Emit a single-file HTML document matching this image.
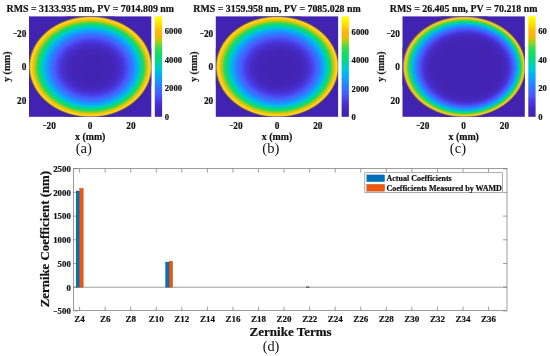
<!DOCTYPE html>
<html><head><meta charset="utf-8"><title>Figure</title>
<style>
html,body{margin:0;padding:0;background:#fff;}
svg{display:block}
text{font-family:"Liberation Serif",serif;fill:#111;}
.b{font-weight:bold;stroke:#111;stroke-width:0.2px}
</style></head><body>
<svg width="550" height="356" viewBox="0 0 550 356">
<defs>
<radialGradient id="ga" cx="0.5" cy="0.5" r="0.5" fx="0.5265" fy="0.5231"><stop offset="0.0000" stop-color="#4222b0"/><stop offset="0.0337" stop-color="#4222b0"/><stop offset="0.0673" stop-color="#4222b0"/><stop offset="0.1010" stop-color="#4222b1"/><stop offset="0.1347" stop-color="#4222b1"/><stop offset="0.1684" stop-color="#4223b1"/><stop offset="0.2020" stop-color="#4223b2"/><stop offset="0.2357" stop-color="#4223b3"/><stop offset="0.2694" stop-color="#4324b5"/><stop offset="0.3030" stop-color="#4324b7"/><stop offset="0.3367" stop-color="#4325b9"/><stop offset="0.3704" stop-color="#4427bd"/><stop offset="0.4040" stop-color="#452ac3"/><stop offset="0.4377" stop-color="#462ecc"/><stop offset="0.4630" stop-color="#4732d5"/><stop offset="0.4714" stop-color="#4734d8"/><stop offset="0.4798" stop-color="#4736db"/><stop offset="0.4882" stop-color="#4838df"/><stop offset="0.4966" stop-color="#483be2"/><stop offset="0.5051" stop-color="#483de5"/><stop offset="0.5135" stop-color="#4841e9"/><stop offset="0.5219" stop-color="#4844ec"/><stop offset="0.5303" stop-color="#4848ef"/><stop offset="0.5387" stop-color="#484cf2"/><stop offset="0.5471" stop-color="#4851f5"/><stop offset="0.5556" stop-color="#4755f8"/><stop offset="0.5640" stop-color="#465afc"/><stop offset="0.5724" stop-color="#455eff"/><stop offset="0.5808" stop-color="#4362ff"/><stop offset="0.5892" stop-color="#4066ff"/><stop offset="0.5976" stop-color="#3d6aff"/><stop offset="0.6061" stop-color="#3a6fff"/><stop offset="0.6145" stop-color="#3573ff"/><stop offset="0.6229" stop-color="#3178ff"/><stop offset="0.6313" stop-color="#2c7dff"/><stop offset="0.6397" stop-color="#2882ff"/><stop offset="0.6481" stop-color="#2588ff"/><stop offset="0.6566" stop-color="#218eff"/><stop offset="0.6650" stop-color="#1d94ff"/><stop offset="0.6734" stop-color="#199afe"/><stop offset="0.6818" stop-color="#14a0fb"/><stop offset="0.6902" stop-color="#0ea6f8"/><stop offset="0.6987" stop-color="#08adf4"/><stop offset="0.7071" stop-color="#00b4ef"/><stop offset="0.7155" stop-color="#00bae8"/><stop offset="0.7239" stop-color="#00bfdf"/><stop offset="0.7323" stop-color="#00c4d3"/><stop offset="0.7407" stop-color="#00c9c6"/><stop offset="0.7492" stop-color="#00ceb8"/><stop offset="0.7576" stop-color="#00d2a9"/><stop offset="0.7660" stop-color="#03d499"/><stop offset="0.7744" stop-color="#08d68b"/><stop offset="0.7828" stop-color="#0dd87e"/><stop offset="0.7912" stop-color="#12d972"/><stop offset="0.7997" stop-color="#1ad967"/><stop offset="0.8081" stop-color="#26d95b"/><stop offset="0.8165" stop-color="#37d84f"/><stop offset="0.8249" stop-color="#4fd742"/><stop offset="0.8333" stop-color="#6dd435"/><stop offset="0.8418" stop-color="#8ed027"/><stop offset="0.8502" stop-color="#afca1b"/><stop offset="0.8586" stop-color="#cdc412"/><stop offset="0.8670" stop-color="#e6c00d"/><stop offset="0.8754" stop-color="#f7c00a"/><stop offset="0.8838" stop-color="#ffc508"/><stop offset="0.8923" stop-color="#ffcd09"/><stop offset="0.9007" stop-color="#ffd610"/><stop offset="0.9091" stop-color="#fad723"/><stop offset="0.9175" stop-color="#dec33c"/><stop offset="0.9259" stop-color="#a9914e"/><stop offset="0.9343" stop-color="#715760"/><stop offset="0.9428" stop-color="#50347b"/><stop offset="0.9512" stop-color="#452797"/><stop offset="0.9596" stop-color="#4324a7"/><stop offset="0.9680" stop-color="#4222ad"/><stop offset="0.9764" stop-color="#4222af"/><stop offset="0.9848" stop-color="#4222b0"/><stop offset="0.9933" stop-color="#4222b0"/></radialGradient>
<radialGradient id="gc" cx="0.5" cy="0.5" r="0.5" fx="0.5644" fy="0.5324"><stop offset="0.0000" stop-color="#4222b0"/><stop offset="0.0337" stop-color="#4222b0"/><stop offset="0.0673" stop-color="#4222b0"/><stop offset="0.1010" stop-color="#4222b0"/><stop offset="0.1347" stop-color="#4222b0"/><stop offset="0.1684" stop-color="#4222b0"/><stop offset="0.2020" stop-color="#4222b0"/><stop offset="0.2357" stop-color="#4222b0"/><stop offset="0.2694" stop-color="#4222b0"/><stop offset="0.3030" stop-color="#4222b0"/><stop offset="0.3367" stop-color="#4222b0"/><stop offset="0.3704" stop-color="#4222b1"/><stop offset="0.4040" stop-color="#4222b1"/><stop offset="0.4377" stop-color="#4223b2"/><stop offset="0.4630" stop-color="#4223b2"/><stop offset="0.4714" stop-color="#4223b3"/><stop offset="0.4798" stop-color="#4223b3"/><stop offset="0.4882" stop-color="#4223b3"/><stop offset="0.4966" stop-color="#4323b4"/><stop offset="0.5051" stop-color="#4323b4"/><stop offset="0.5135" stop-color="#4324b4"/><stop offset="0.5219" stop-color="#4324b5"/><stop offset="0.5303" stop-color="#4324b6"/><stop offset="0.5387" stop-color="#4324b6"/><stop offset="0.5471" stop-color="#4325b7"/><stop offset="0.5556" stop-color="#4325b8"/><stop offset="0.5640" stop-color="#4325b9"/><stop offset="0.5724" stop-color="#4326ba"/><stop offset="0.5808" stop-color="#4426bc"/><stop offset="0.5892" stop-color="#4427be"/><stop offset="0.5976" stop-color="#4428c0"/><stop offset="0.6061" stop-color="#4429c2"/><stop offset="0.6145" stop-color="#452ac5"/><stop offset="0.6229" stop-color="#452cc8"/><stop offset="0.6313" stop-color="#462dcb"/><stop offset="0.6397" stop-color="#462fcf"/><stop offset="0.6481" stop-color="#4632d4"/><stop offset="0.6566" stop-color="#4735d9"/><stop offset="0.6650" stop-color="#4738de"/><stop offset="0.6734" stop-color="#483ce3"/><stop offset="0.6818" stop-color="#4842e8"/><stop offset="0.6902" stop-color="#4848ed"/><stop offset="0.6987" stop-color="#474ef3"/><stop offset="0.7071" stop-color="#4655f8"/><stop offset="0.7155" stop-color="#445cfd"/><stop offset="0.7239" stop-color="#4163ff"/><stop offset="0.7323" stop-color="#3d6aff"/><stop offset="0.7407" stop-color="#3772ff"/><stop offset="0.7492" stop-color="#3079ff"/><stop offset="0.7576" stop-color="#2982ff"/><stop offset="0.7660" stop-color="#238bff"/><stop offset="0.7744" stop-color="#1c95ff"/><stop offset="0.7828" stop-color="#139ffa"/><stop offset="0.7912" stop-color="#0aaaf3"/><stop offset="0.7997" stop-color="#01b4e8"/><stop offset="0.8081" stop-color="#00bcd9"/><stop offset="0.8165" stop-color="#00c4c7"/><stop offset="0.8249" stop-color="#00ccb2"/><stop offset="0.8333" stop-color="#04d29c"/><stop offset="0.8418" stop-color="#0fd585"/><stop offset="0.8502" stop-color="#1fd56e"/><stop offset="0.8586" stop-color="#37d458"/><stop offset="0.8670" stop-color="#58d243"/><stop offset="0.8754" stop-color="#82cf31"/><stop offset="0.8838" stop-color="#accc22"/><stop offset="0.8923" stop-color="#d0ca19"/><stop offset="0.9007" stop-color="#e9cb1c"/><stop offset="0.9091" stop-color="#f0cb2d"/><stop offset="0.9175" stop-color="#ddb944"/><stop offset="0.9259" stop-color="#ab8b54"/><stop offset="0.9343" stop-color="#735564"/><stop offset="0.9428" stop-color="#51337d"/><stop offset="0.9512" stop-color="#462797"/><stop offset="0.9596" stop-color="#4323a7"/><stop offset="0.9680" stop-color="#4222ad"/><stop offset="0.9764" stop-color="#4222af"/><stop offset="0.9848" stop-color="#4222b0"/><stop offset="0.9933" stop-color="#4222b0"/></radialGradient>
<linearGradient id="cb" x1="0" y1="1" x2="0" y2="0"><stop offset="0.0000" stop-color="#4222b0"/><stop offset="0.0159" stop-color="#4223b2"/><stop offset="0.0317" stop-color="#4324b4"/><stop offset="0.0476" stop-color="#4325b7"/><stop offset="0.0635" stop-color="#4426bb"/><stop offset="0.0794" stop-color="#4428bf"/><stop offset="0.0952" stop-color="#452ac5"/><stop offset="0.1111" stop-color="#462ecc"/><stop offset="0.1270" stop-color="#4731d4"/><stop offset="0.1429" stop-color="#4836dc"/><stop offset="0.1587" stop-color="#483ce4"/><stop offset="0.1746" stop-color="#4943eb"/><stop offset="0.1905" stop-color="#494bf1"/><stop offset="0.2063" stop-color="#4853f7"/><stop offset="0.2222" stop-color="#465bfd"/><stop offset="0.2381" stop-color="#4462ff"/><stop offset="0.2540" stop-color="#4068ff"/><stop offset="0.2698" stop-color="#3b6eff"/><stop offset="0.2857" stop-color="#3475ff"/><stop offset="0.3016" stop-color="#2b7cff"/><stop offset="0.3175" stop-color="#2683ff"/><stop offset="0.3333" stop-color="#238aff"/><stop offset="0.3492" stop-color="#2091ff"/><stop offset="0.3651" stop-color="#1a98ff"/><stop offset="0.3810" stop-color="#159ffb"/><stop offset="0.3968" stop-color="#10a6f8"/><stop offset="0.4127" stop-color="#09aef5"/><stop offset="0.4286" stop-color="#01b5f1"/><stop offset="0.4444" stop-color="#00bbea"/><stop offset="0.4603" stop-color="#00c2e2"/><stop offset="0.4762" stop-color="#00c8d9"/><stop offset="0.4921" stop-color="#00cccb"/><stop offset="0.5079" stop-color="#00cfba"/><stop offset="0.5238" stop-color="#00d1a9"/><stop offset="0.5397" stop-color="#06d399"/><stop offset="0.5556" stop-color="#09d689"/><stop offset="0.5714" stop-color="#0bd87f"/><stop offset="0.5873" stop-color="#0cd979"/><stop offset="0.6032" stop-color="#0fda72"/><stop offset="0.6190" stop-color="#13db6a"/><stop offset="0.6349" stop-color="#19dc63"/><stop offset="0.6508" stop-color="#21dc5c"/><stop offset="0.6667" stop-color="#2cdc54"/><stop offset="0.6825" stop-color="#3adc4b"/><stop offset="0.6984" stop-color="#4fda41"/><stop offset="0.7143" stop-color="#68d736"/><stop offset="0.7302" stop-color="#86d428"/><stop offset="0.7460" stop-color="#a4cf18"/><stop offset="0.7619" stop-color="#beca09"/><stop offset="0.7778" stop-color="#d5c400"/><stop offset="0.7937" stop-color="#eabc00"/><stop offset="0.8095" stop-color="#fcb40b"/><stop offset="0.8254" stop-color="#ffb117"/><stop offset="0.8413" stop-color="#ffb416"/><stop offset="0.8571" stop-color="#ffbb0f"/><stop offset="0.8730" stop-color="#ffc308"/><stop offset="0.8889" stop-color="#ffcc02"/><stop offset="0.9048" stop-color="#ffd600"/><stop offset="0.9206" stop-color="#ffdf00"/><stop offset="0.9365" stop-color="#ffe700"/><stop offset="0.9524" stop-color="#feef00"/><stop offset="0.9683" stop-color="#fef500"/><stop offset="0.9841" stop-color="#fffc00"/><stop offset="1.0000" stop-color="#ffff00"/></linearGradient>
</defs>
<rect width="550" height="356" fill="#fff"/>
<clipPath id="ca"><rect x="29.0" y="16.4" width="122.3" height="100.4"/></clipPath><rect x="29.0" y="16.4" width="122.3" height="100.4" fill="#4222b0"/><ellipse clip-path="url(#ca)" cx="90.17" cy="66.60" rx="65.53" ry="53.84" fill="url(#ga)"/><rect x="154.8" y="16.4" width="7.3" height="100.4" fill="url(#cb)"/><text class="b" x="164.8" y="120.0" font-size="8.6">0</text><text class="b" x="164.8" y="91.4" font-size="8.6">2000</text><text class="b" x="164.8" y="62.7" font-size="8.6">4000</text><text class="b" x="164.8" y="34.1" font-size="8.6">6000</text><text class="b" x="90.3" y="12.35" font-size="9.9" text-anchor="middle">RMS = 3133.935 nm, PV = 7014.809 nm</text><text class="b" x="49.1" y="128.7" font-size="9.3" text-anchor="middle"><tspan font-size="7.2" dy="-0.4">−</tspan><tspan dy="0.4">20</tspan></text><text class="b" x="26.4" y="36.6" font-size="9.3" text-anchor="end"><tspan font-size="7.2" dy="-0.4">−</tspan><tspan dy="0.4">20</tspan></text><text class="b" x="90.2" y="128.7" font-size="9.3" text-anchor="middle">0</text><text class="b" x="26.4" y="70.1" font-size="9.3" text-anchor="end">0</text><text class="b" x="131.0" y="128.7" font-size="9.3" text-anchor="middle">20</text><text class="b" x="26.4" y="103.6" font-size="9.3" text-anchor="end">20</text><text class="b" x="90.2" y="140.0" font-size="9.9" text-anchor="middle">x (mm)</text><text class="b" transform="translate(10.2 66.6) rotate(-90)" font-size="9.9" text-anchor="middle">y (mm)</text><text x="83.8" y="152.9" font-size="14.6" text-anchor="middle">(a)</text>
<clipPath id="cb2"><rect x="215.8" y="16.4" width="122.3" height="100.4"/></clipPath><rect x="215.8" y="16.4" width="122.3" height="100.4" fill="#4222b0"/><ellipse clip-path="url(#cb2)" cx="276.98" cy="66.60" rx="65.53" ry="53.84" fill="url(#ga)"/><rect x="341.6" y="16.4" width="7.3" height="100.4" fill="url(#cb)"/><text class="b" x="351.6" y="120.0" font-size="8.6">0</text><text class="b" x="351.6" y="91.7" font-size="8.6">2000</text><text class="b" x="351.6" y="63.3" font-size="8.6">4000</text><text class="b" x="351.6" y="35.0" font-size="8.6">6000</text><text class="b" x="277.0" y="12.35" font-size="9.9" text-anchor="middle">RMS = 3159.958 nm, PV = 7085.028 nm</text><text class="b" x="235.9" y="128.7" font-size="9.3" text-anchor="middle"><tspan font-size="7.2" dy="-0.4">−</tspan><tspan dy="0.4">20</tspan></text><text class="b" x="213.2" y="36.6" font-size="9.3" text-anchor="end"><tspan font-size="7.2" dy="-0.4">−</tspan><tspan dy="0.4">20</tspan></text><text class="b" x="277.0" y="128.7" font-size="9.3" text-anchor="middle">0</text><text class="b" x="213.2" y="70.1" font-size="9.3" text-anchor="end">0</text><text class="b" x="317.8" y="128.7" font-size="9.3" text-anchor="middle">20</text><text class="b" x="213.2" y="103.6" font-size="9.3" text-anchor="end">20</text><text class="b" x="277.0" y="140.0" font-size="9.9" text-anchor="middle">x (mm)</text><text class="b" transform="translate(197.0 66.6) rotate(-90)" font-size="9.9" text-anchor="middle">y (mm)</text><text x="270.8" y="152.9" font-size="14.6" text-anchor="middle">(b)</text>
<clipPath id="cc"><rect x="402.5" y="16.4" width="122.3" height="100.4"/></clipPath><rect x="402.5" y="16.4" width="122.3" height="100.4" fill="#4222b0"/><ellipse clip-path="url(#cc)" cx="463.68" cy="66.60" rx="65.53" ry="53.84" fill="url(#gc)"/><rect x="528.3" y="16.4" width="7.3" height="100.4" fill="url(#cb)"/><text class="b" x="538.3" y="120.0" font-size="8.6">0</text><text class="b" x="538.3" y="91.4" font-size="8.6">20</text><text class="b" x="538.3" y="62.8" font-size="8.6">40</text><text class="b" x="538.3" y="34.2" font-size="8.6">60</text><text class="b" x="463.6" y="12.35" font-size="9.9" text-anchor="middle">RMS = 26.405 nm, PV = 70.218 nm</text><text class="b" x="422.6" y="128.7" font-size="9.3" text-anchor="middle"><tspan font-size="7.2" dy="-0.4">−</tspan><tspan dy="0.4">20</tspan></text><text class="b" x="399.9" y="36.6" font-size="9.3" text-anchor="end"><tspan font-size="7.2" dy="-0.4">−</tspan><tspan dy="0.4">20</tspan></text><text class="b" x="463.7" y="128.7" font-size="9.3" text-anchor="middle">0</text><text class="b" x="399.9" y="70.1" font-size="9.3" text-anchor="end">0</text><text class="b" x="504.5" y="128.7" font-size="9.3" text-anchor="middle">20</text><text class="b" x="399.9" y="103.6" font-size="9.3" text-anchor="end">20</text><text class="b" x="463.7" y="140.0" font-size="9.9" text-anchor="middle">x (mm)</text><text class="b" transform="translate(383.7 66.6) rotate(-90)" font-size="9.9" text-anchor="middle">y (mm)</text><text x="457.9" y="152.9" font-size="14.6" text-anchor="middle">(c)</text>
<g stroke="#7d7d7d" stroke-width="0.75" fill="none"><rect x="73.50" y="168.60" width="433.50" height="142.00"/><path d="M79.60 310.60 v-4 M79.60 168.60 v4"/><path d="M105.16 310.60 v-4 M105.16 168.60 v4"/><path d="M130.72 310.60 v-4 M130.72 168.60 v4"/><path d="M156.28 310.60 v-4 M156.28 168.60 v4"/><path d="M181.84 310.60 v-4 M181.84 168.60 v4"/><path d="M207.40 310.60 v-4 M207.40 168.60 v4"/><path d="M232.96 310.60 v-4 M232.96 168.60 v4"/><path d="M258.52 310.60 v-4 M258.52 168.60 v4"/><path d="M284.08 310.60 v-4 M284.08 168.60 v4"/><path d="M309.64 310.60 v-4 M309.64 168.60 v4"/><path d="M335.20 310.60 v-4 M335.20 168.60 v4"/><path d="M360.76 310.60 v-4 M360.76 168.60 v4"/><path d="M386.32 310.60 v-4 M386.32 168.60 v4"/><path d="M411.88 310.60 v-4 M411.88 168.60 v4"/><path d="M437.44 310.60 v-4 M437.44 168.60 v4"/><path d="M463.00 310.60 v-4 M463.00 168.60 v4"/><path d="M488.56 310.60 v-4 M488.56 168.60 v4"/><path d="M73.50 310.90 h4 M507.00 310.90 h-4"/><path d="M73.50 287.20 h4 M507.00 287.20 h-4"/><path d="M73.50 263.50 h4 M507.00 263.50 h-4"/><path d="M73.50 239.80 h4 M507.00 239.80 h-4"/><path d="M73.50 216.10 h4 M507.00 216.10 h-4"/><path d="M73.50 192.40 h4 M507.00 192.40 h-4"/><path d="M73.50 168.70 h4 M507.00 168.70 h-4"/><path d="M73.50 287.20 H507.00"/></g><rect x="76.10" y="190.98" width="3.55" height="96.22" fill="#0072BD" stroke="#1a3a5a" stroke-width="0.3"/><rect x="165.56" y="262.08" width="3.55" height="25.12" fill="#0072BD" stroke="#1a3a5a" stroke-width="0.3"/><rect x="79.65" y="188.37" width="3.55" height="98.83" fill="#F0550C" stroke="#8a3a0a" stroke-width="0.3"/><rect x="169.11" y="261.22" width="3.55" height="25.98" fill="#F0550C" stroke="#8a3a0a" stroke-width="0.3"/><text class="b" x="79.60" y="322.10" font-size="9" text-anchor="middle">Z4</text><text class="b" x="105.16" y="322.10" font-size="9" text-anchor="middle">Z6</text><text class="b" x="130.72" y="322.10" font-size="9" text-anchor="middle">Z8</text><text class="b" x="156.28" y="322.10" font-size="9" text-anchor="middle">Z10</text><text class="b" x="181.84" y="322.10" font-size="9" text-anchor="middle">Z12</text><text class="b" x="207.40" y="322.10" font-size="9" text-anchor="middle">Z14</text><text class="b" x="232.96" y="322.10" font-size="9" text-anchor="middle">Z16</text><text class="b" x="258.52" y="322.10" font-size="9" text-anchor="middle">Z18</text><text class="b" x="284.08" y="322.10" font-size="9" text-anchor="middle">Z20</text><text class="b" x="309.64" y="322.10" font-size="9" text-anchor="middle">Z22</text><text class="b" x="335.20" y="322.10" font-size="9" text-anchor="middle">Z24</text><text class="b" x="360.76" y="322.10" font-size="9" text-anchor="middle">Z26</text><text class="b" x="386.32" y="322.10" font-size="9" text-anchor="middle">Z28</text><text class="b" x="411.88" y="322.10" font-size="9" text-anchor="middle">Z30</text><text class="b" x="437.44" y="322.10" font-size="9" text-anchor="middle">Z32</text><text class="b" x="463.00" y="322.10" font-size="9" text-anchor="middle">Z34</text><text class="b" x="488.56" y="322.10" font-size="9" text-anchor="middle">Z36</text><text class="b" x="70.80" y="314.25" font-size="8.8" text-anchor="end"><tspan font-size="7" dy="-0.3">−</tspan><tspan dy="0.3">500</tspan></text><text class="b" x="70.80" y="290.55" font-size="8.8" text-anchor="end">0</text><text class="b" x="70.80" y="266.85" font-size="8.8" text-anchor="end">500</text><text class="b" x="70.80" y="243.15" font-size="8.8" text-anchor="end">1000</text><text class="b" x="70.80" y="219.45" font-size="8.8" text-anchor="end">1500</text><text class="b" x="70.80" y="195.75" font-size="8.8" text-anchor="end">2000</text><text class="b" x="70.80" y="172.05" font-size="8.8" text-anchor="end">2500</text><text class="b" x="290.6" y="336.3" font-size="13" text-anchor="middle">Zernike Terms</text><text class="b" transform="translate(48.8 239.1) rotate(-90)" font-size="12.85" text-anchor="middle">Zernike Coefficient (nm)</text><text x="271" y="350.6" font-size="14.3" text-anchor="middle">(d)</text><rect x="306.0" y="286.5" width="3.4" height="1.3" fill="#555"/><rect x="364.8" y="172.7" width="137.6" height="19.7" fill="#fff" stroke="#8a8a8a" stroke-width="0.7"/><rect x="366.8" y="174.9" width="17.8" height="6.8" fill="#0072BD" stroke="#1a4a7a" stroke-width="0.3"/><rect x="366.8" y="184.4" width="17.8" height="6.8" fill="#F0550C" stroke="#8a3a0a" stroke-width="0.3"/><text class="b" x="386.4" y="181.4" font-size="8.04">Actual Coefficients</text><text class="b" x="386.4" y="190.9" font-size="8.04">Coefficients Measured by WAMD</text>
</svg></body></html>
